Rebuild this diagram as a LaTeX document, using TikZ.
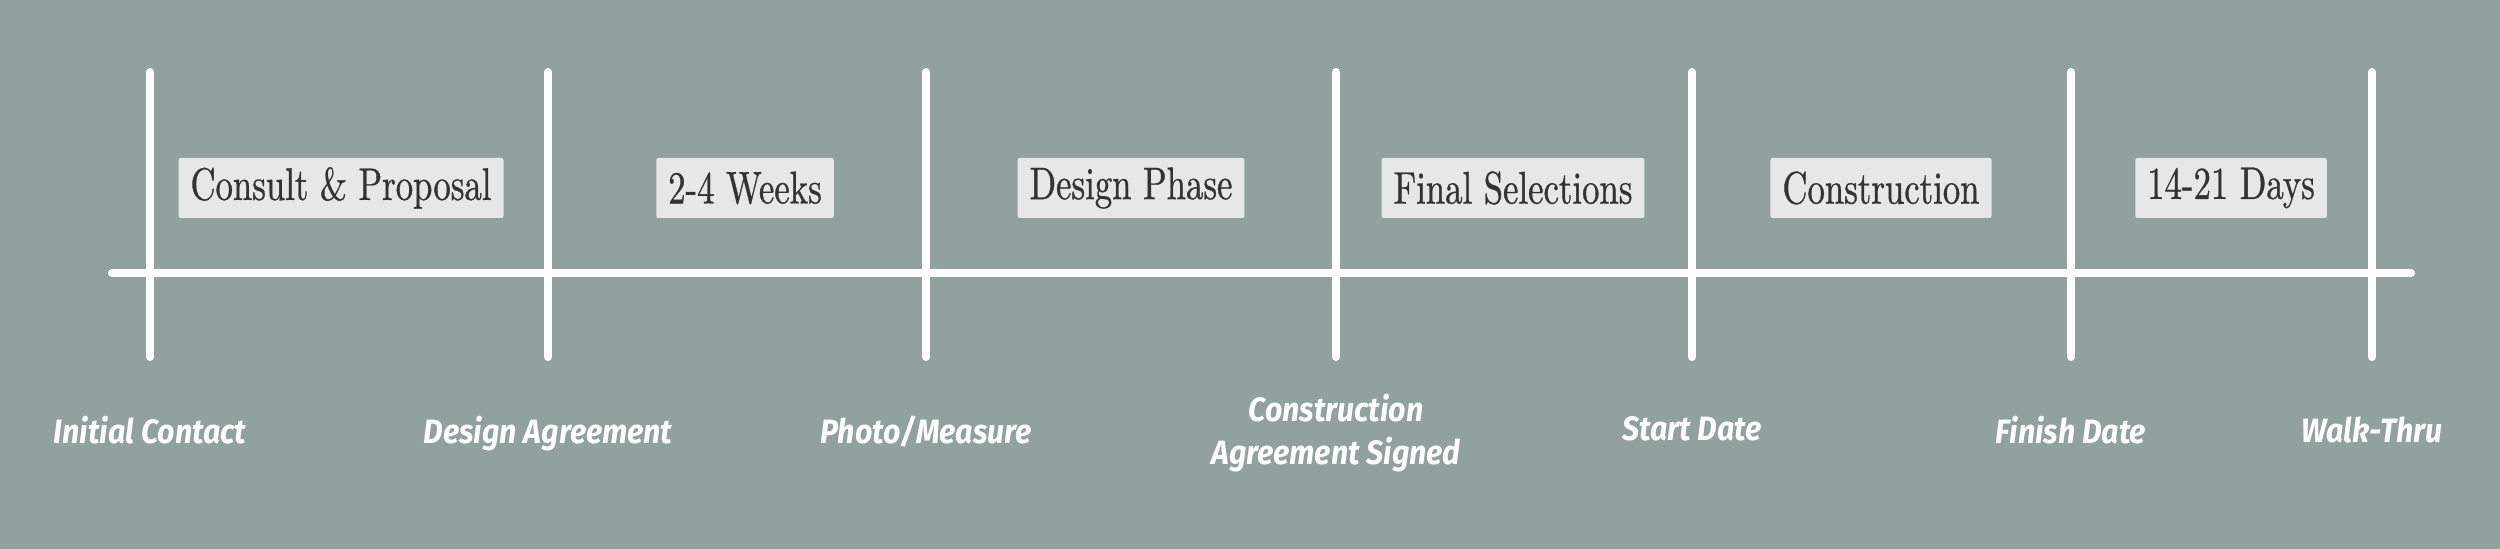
\documentclass[tikz,border=0pt]{standalone}
\usepackage{fontspec}
\usepackage{tikz}
\usetikzlibrary{positioning, calc}
\newfontfamily\datefont{Fira Sans}[FakeStretch=0.9]
\newfontfamily\phasefont{lmroman10-regular}[Extension=.otf, FakeBold=0.7, FakeStretch=0.76]
\definecolor{sage}{HTML}{91A19D}
\definecolor{boxgray}{HTML}{E5E8E6}
\definecolor{inkgray}{HTML}{333333}
\tikzstyle{timeline} = [line width=0.08cm, white, line cap=round]
\tikzstyle{phasebox} = [rectangle, fill=boxgray, text=inkgray, minimum height=0.6cm, inner xsep=0.12cm, inner ysep=0pt, rounded corners=0.6pt, font=\phasefont\fontsize{13}{15}\selectfont]
\tikzstyle{datelabel} = [text=white, align=center, font=\datefont\bfseries\itshape\fontsize{9.6}{12.2}\selectfont]

\begin{document}
\begin{tikzpicture}
    % Fondo
    \fill[sage] (0,0) rectangle (25,5.49);

    % Linea de tiempo
    \coordinate (start) at (1.12,2.76);
    \coordinate (end) at (24.11,2.76);
    \draw [timeline] (start) -- (end);

    % Hitos
    \coordinate (t1) at (1.50,4.77); \coordinate (b1) at (1.50,1.92);
    \coordinate (t2) at (5.48,4.77); \coordinate (b2) at (5.48,1.92);
    \coordinate (t3) at (9.26,4.77); \coordinate (b3) at (9.26,1.92);
    \coordinate (t4) at (13.36,4.77); \coordinate (b4) at (13.36,1.92);
    \coordinate (t5) at (16.92,4.77); \coordinate (b5) at (16.92,1.92);
    \coordinate (t6) at (20.71,4.77); \coordinate (b6) at (20.71,1.92);
    \coordinate (t7) at (23.72,4.77); \coordinate (b7) at (23.72,1.92);
    \draw [timeline] (t1) -- (b1);
    \draw [timeline] (t2) -- (b2);
    \draw [timeline] (t3) -- (b3);
    \draw [timeline] (t4) -- (b4);
    \draw [timeline] (t5) -- (b5);
    \draw [timeline] (t6) -- (b6);
    \draw [timeline] (t7) -- (b7);

    % Fases
    \node (consult) [phasebox] at (3.41,3.61) {Consult \& Proposal};
    \node (weeks) [phasebox] at (7.45,3.61) {2-4 Weeks};
    \node (design) [phasebox] at (11.31,3.61) {Design Phase};
    \node (select) [phasebox] at (15.13,3.61) {Final Selections};
    \node (build) [phasebox] at (18.81,3.61) {Construction};
    \node (days) [phasebox] at (22.31,3.61) {14-21 Days};

    % Fechas
    \node (contact) [datelabel, below=0.47cm of b1] {Initial Contact};
    \node (agree) [datelabel, below=0.47cm of b2] {Design Agreement};
    \node (photo) [datelabel, below=0.47cm of b3] {Photo/Measure};
    \node (signed) [datelabel, below=0.25cm of b4] {Construction\\Agreement Signed};
    \node (startd) [datelabel, below=0.47cm of b5] {Start Date};
    \node (finish) [datelabel, below=0.47cm of b6] {Finish Date};
    \node (walk) [datelabel, below=0.47cm of b7] {Walk-Thru};
\end{tikzpicture}
\end{document}
